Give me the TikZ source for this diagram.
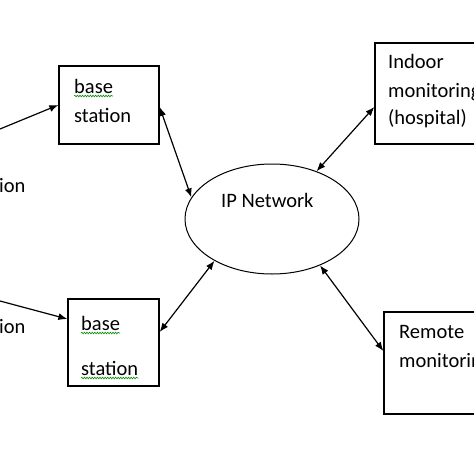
\documentclass[tikz,border=0pt]{standalone}
\usepackage{fontspec}
\setmainfont{Carlito}
\usetikzlibrary{arrows.meta,decorations.pathmorphing,calc,shapes.geometric}
\begin{document}
\begin{tikzpicture}[x=1pt,y=-1pt,
  box/.style={draw,line width=1.3pt,rectangle,inner sep=0pt},
  net/.style={draw,line width=1pt,ellipse,inner sep=0pt},
  lbl/.style={anchor=base west,inner sep=0pt,font=\fontsize{20.5}{24}\selectfont},
  link/.style={line width=1.2pt,{Latex[length=9pt,width=7pt]}-{Latex[length=9pt,width=7pt]}},
  feed/.style={line width=1.2pt,-{Latex[length=9pt,width=7pt]}},
  squig/.style={draw=green!55!black,line width=0.6pt,decorate,decoration={snake,amplitude=0.8pt,segment length=2.6pt}}]
\useasboundingbox (0,0) rectangle (474,474);
\clip (0,0) rectangle (474,474);
\fill[white] (0,0) rectangle (474,474);
% boxes
\node[box,minimum width=100pt,minimum height=78pt] (tb) at (109,105) {};
\node[box,minimum width=91pt,minimum height=87pt] (bb) at (113.5,342.5) {};
\node[box,minimum width=125pt,minimum height=101pt] (in) at (437.5,93.5) {};
\node[box,minimum width=116pt,minimum height=102pt] (rm) at (442,363) {};
\node[net,minimum width=174pt,minimum height=110pt] (ip) at (272,219) {};
% texts
\node[lbl] (t1) at (74,93) {base};
\node[lbl] (t2) at (74,122) {station};
\node[lbl] (b1) at (81,330) {base};
\node[lbl] (b2) at (81,375) {station};
\node[lbl] (i1) at (388,68) {Indoor};
\node[lbl] (i2) at (388,97) {monitoring};
\node[lbl] (i3) at (388,124) {(hospital)};
\node[lbl] (r1) at (399,338) {Remote};
\node[lbl] (r2) at (399,367) {monitoring};
\node[lbl] (ipt) at (221,207) {IP Network};
\node[lbl] (l1) at (-1,192) {ion};
\node[lbl] (l2) at (-1,333) {ion};
% spelling squiggles
\draw[squig] ([yshift=-3pt]t1.base west) -- ([yshift=-3pt]t1.base east);
\draw[squig] ([yshift=-3pt]b1.base west) -- ([yshift=-3pt]b1.base east);
\draw[squig] ([yshift=-3pt]b2.base west) -- ([yshift=-3pt]b2.base east);
% connectors
\coordinate (s1) at (0,129);
\coordinate (s2) at (0,301);
\draw[feed] (s1) -- (tb.west);
\draw[feed] (s2) -- ([yshift=23.5pt]bb.west);
\draw[link] ([yshift=-2pt]tb.east) -- (ip.165);
\draw[link] ([yshift=10.5pt]bb.east) -- (ip.216);
\draw[link] ([yshift=-13.5pt]in.west) -- (ip.47);
\draw[link] (ip.316) -- ([yshift=12pt]rm.west);
\end{tikzpicture}
\end{document}
